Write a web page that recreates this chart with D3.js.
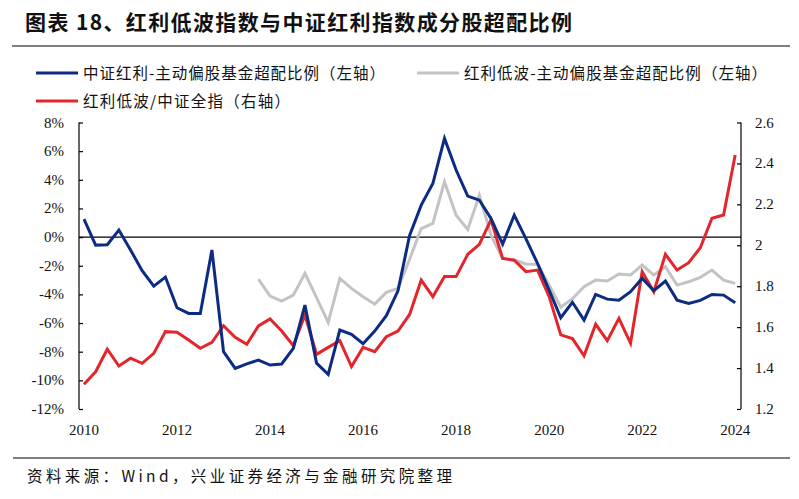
<!DOCTYPE html>
<html>
<head>
<meta charset="utf-8">
<script src="https://cdn.jsdelivr.net/npm/d3@7"></script>
<style>
  body { margin: 0; background: #fff; }
  svg { display: block; }
</style>
</head>
<body>
<div id="chart"></div>
<script>
// quarterly points, 2010Q1 .. 2024Q1
var quarters = d3.range(57).map(function(i) { return (2010 + Math.floor(i / 4)) + 'Q' + (i % 4 + 1); });
var yearTicks = ['2010', '2012', '2014', '2016', '2018', '2020', '2022', '2024'];

// 中证红利-主动偏股基金超配比例 (%)
var csDividend = [1.26, -0.56, -0.53, 0.49, -0.9, -2.35, -3.42, -2.79, -4.93, -5.33,
  -5.33, -0.9, -8.0, -9.17, -8.85, -8.58, -8.93, -8.86, -7.77, -4.75,
  -8.8, -9.58, -6.49, -6.79, -7.44, -6.56, -5.49, -3.75, 0.12, 2.23,
  3.74, 6.89, 4.68, 2.86, 2.58, 1.3, -0.49, 1.53, -0.1, -1.84,
  -3.7, -5.63, -4.55, -5.79, -4.0, -4.33, -4.4, -3.81, -2.88, -3.74,
  -3.07, -4.4, -4.63, -4.42, -4.0, -4.05, -4.58];

// 红利低波-主动偏股基金超配比例 (%), starts 2013Q4
var lowVol = [null, null, null, null, null, null, null, null, null, null,
  null, null, null, null, null, -2.93, -4.12, -4.47, -4.05, -2.53,
  -4.23, -5.95, -2.88, -3.58, -4.16, -4.68, -3.86, -3.58, -1.55, 0.6,
  0.95, 3.86, 1.53, 0.53, 2.93, 0.14, -1.49, -1.6, -1.88, -1.9,
  -3.35, -4.9, -4.3, -3.47, -3.0, -3.07, -2.58, -2.65, -1.95, -2.65,
  -2.07, -3.35, -3.12, -2.81, -2.3, -3.0, -3.23];

// 红利低波/中证全指
var ratio = [1.321, 1.382, 1.492, 1.41, 1.448, 1.423, 1.472, 1.578, 1.575, 1.537,
  1.497, 1.526, 1.607, 1.55, 1.516, 1.606, 1.64, 1.581, 1.509, 1.659,
  1.467, 1.501, 1.534, 1.407, 1.501, 1.48, 1.553, 1.581, 1.662, 1.83,
  1.749, 1.847, 1.847, 1.956, 2.005, 2.124, 1.936, 1.927, 1.871, 1.879,
  1.749, 1.562, 1.544, 1.46, 1.614, 1.534, 1.643, 1.521, 1.871, 1.773,
  1.956, 1.879, 1.915, 1.988, 2.132, 2.148, 2.441];

var leftTicks = [8, 6, 4, 2, 0, -2, -4, -6, -8, -10, -12];
var rightTicks = [2.6, 2.4, 2.2, 2, 1.8, 1.6, 1.4, 1.2];

var seriesNames = ['中证红利-主动偏股基金超配比例（左轴）', '红利低波-主动偏股基金超配比例（左轴）', '红利低波/中证全指（右轴）'];
var colors = ['#0c2b82', '#c3c3c3', '#e3262b'];

var W = 799, H = 499;
var svg = d3.select('#chart').append('svg').attr('width', W).attr('height', H);

var cjk = '"Noto Sans CJK SC", sans-serif';
var serif = '"Liberation Serif", "Times New Roman", serif';

// title + rules
svg.append('text').attr('x', 25).attr('y', 30)
  .attr('font-family', cjk).attr('font-weight', 'bold').attr('font-size', 21)
  .attr('textLength', 547).attr('lengthAdjust', 'spacing')
  .attr('fill', '#111').text('图表 18、红利低波指数与中证红利指数成分股超配比例');
svg.append('line').attr('x1', 12).attr('x2', 790).attr('y1', 46).attr('y2', 46)
  .attr('stroke', '#000').attr('stroke-width', 1.2);
svg.append('line').attr('x1', 13).attr('x2', 790).attr('y1', 458).attr('y2', 458)
  .attr('stroke', '#000').attr('stroke-width', 1.2);
svg.append('text').attr('x', 27).attr('y', 482)
  .attr('font-family', cjk).attr('font-size', 15.5).attr('fill', '#111')
  .attr('textLength', 425).attr('lengthAdjust', 'spacing')
  .text('资料来源：Wind，兴业证券经济与金融研究院整理');

// legend
var legendPos = [[36, 73, 302], [417, 73, 303], [36, 101, 207]];
seriesNames.forEach(function(name, i) {
  var p = legendPos[i];
  svg.append('line').attr('x1', p[0]).attr('x2', p[0] + 42).attr('y1', p[1]).attr('y2', p[1])
    .attr('stroke', colors[i]).attr('stroke-width', 3);
  svg.append('text').attr('x', p[0] + 47).attr('y', p[1] + 6)
    .attr('font-family', cjk).attr('font-size', 15.5).attr('fill', '#111')
    .attr('textLength', p[2]).attr('lengthAdjust', 'spacing').text(name);
});

// scales
var x = d3.scalePoint().domain(quarters).range([84, 735.2]);
var yL = d3.scaleLinear().domain([-12, 8]).range([409, 122.5]);
var yR = d3.scaleLinear().domain([1.2, 2.6]).range([409, 122.5]);

// left axis
var axL = svg.append('g').attr('transform', 'translate(79,0)')
  .call(d3.axisRight(yL).tickValues(leftTicks).tickSize(4).tickFormat(''));
axL.selectAll('path, line').attr('stroke', '#000').attr('stroke-width', 1.2);
axL.select('.domain').attr('d', 'M0,' + yL(8) + 'V' + yL(-12));
svg.append('g').selectAll('text').data(leftTicks).enter().append('text')
  .attr('x', 64).attr('y', function(d) { return yL(d) + 5; })
  .attr('text-anchor', 'end').attr('font-family', serif).attr('font-size', 15).attr('fill', '#111')
  .text(function(d) { return d + '%'; });

// right axis
var axR = svg.append('g').attr('transform', 'translate(741,0)')
  .call(d3.axisLeft(yR).tickValues(rightTicks).tickSize(4).tickFormat(''));
axR.selectAll('path, line').attr('stroke', '#000').attr('stroke-width', 1.2);
axR.select('.domain').attr('d', 'M0,' + yR(2.6) + 'V' + yR(1.2));
svg.append('g').selectAll('text').data(rightTicks).enter().append('text')
  .attr('x', 755).attr('y', function(d) { return yR(d) + 5; })
  .attr('font-family', serif).attr('font-size', 15).attr('fill', '#111')
  .text(function(d) { return d3.format('')(d); });

// x labels
svg.append('g').selectAll('text').data(yearTicks).enter().append('text')
  .attr('x', function(d) { return x(d + 'Q1'); }).attr('y', 435)
  .attr('text-anchor', 'middle').attr('font-family', serif).attr('font-size', 15).attr('fill', '#111')
  .text(function(d) { return d; });

// zero line
svg.append('line').attr('x1', 79).attr('x2', 741).attr('y1', yL(0)).attr('y2', yL(0))
  .attr('stroke', '#000').attr('stroke-width', 1.2);

// lines
function drawLine(values, scale, color) {
  var line = d3.line()
    .defined(function(d) { return d != null; })
    .x(function(d, i) { return x(quarters[i]); })
    .y(function(d) { return scale(d); });
  svg.append('path').datum(values)
    .attr('fill', 'none').attr('stroke', color).attr('stroke-width', 3)
    .attr('stroke-linejoin', 'miter').attr('d', line);
}
drawLine(lowVol, yL, colors[1]);
drawLine(ratio, yR, colors[2]);
drawLine(csDividend, yL, colors[0]);
</script>
</body>
</html>
